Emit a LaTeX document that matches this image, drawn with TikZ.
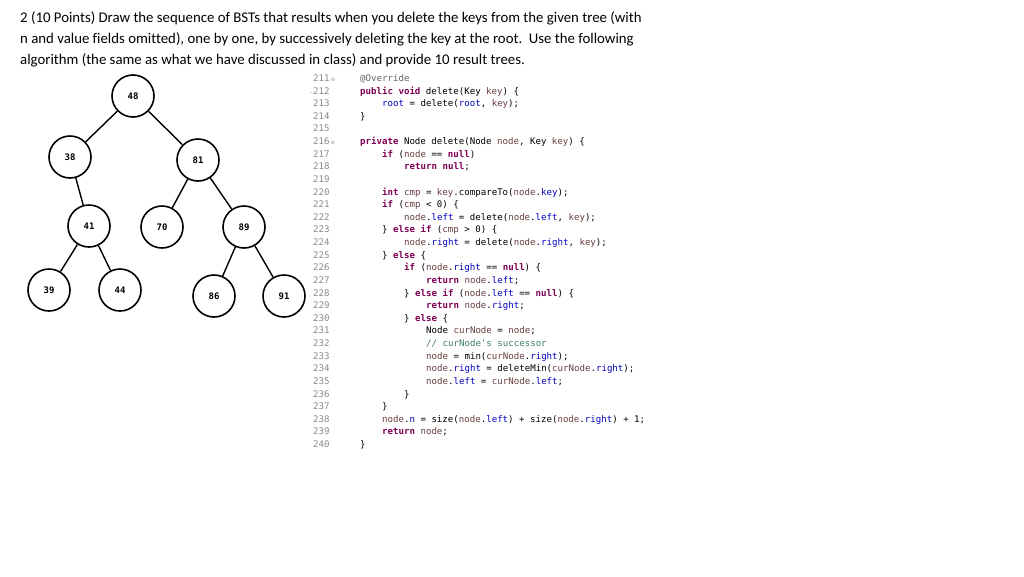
\documentclass[tikz,border=0pt]{standalone}
\usepackage{fontspec}
\newfontfamily\hdfont{Carlito}[Ligatures={TeX,NoCommon}]
\newfontfamily\codefont{DejaVu Sans Mono}[Ligatures=TeXOff]
\newfontfamily\symfont{DejaVu Sans}
\definecolor{kwcol}{HTML}{7F0055}
\definecolor{fldcol}{HTML}{0000C0}
\definecolor{varcol}{HTML}{6A3E3E}
\definecolor{cmtcol}{HTML}{3F7F5F}
\definecolor{anncol}{HTML}{646464}
\definecolor{lncol}{HTML}{8A8A8A}
\newcommand\kw[1]{\textcolor{kwcol}{\bfseries #1}}
\newcommand\fld[1]{\textcolor{fldcol}{#1}}
\newcommand\lvar[1]{\textcolor{varcol}{#1}}
\newcommand\cmt[1]{\textcolor{cmtcol}{#1}}
\newcommand\ann[1]{\textcolor{anncol}{#1}}

\tikzset{
  bstnode/.style={circle,draw,line width=1.6pt,minimum size=42pt,inner sep=0pt,
    font=\codefont\fontsize{9}{10}\selectfont\bfseries},
  bstedge/.style={line width=1.4pt},
  codeline/.style={anchor=base west,inner sep=0pt,font=\codefont\fontsize{9.1}{10}\selectfont},
  lineno/.style={codeline,text=lncol},
  header/.style={anchor=base west,inner sep=0pt,font=\hdfont\fontsize{14.8}{18}\selectfont},
}

\begin{document}
\begin{tikzpicture}[x=1pt,y=-1pt]
\useasboundingbox[fill=white] (0,0) rectangle (1024,576);

% task text
\node[header] (hd1) at (20,22) {2 (10 Points) Draw the sequence of BSTs that results when you delete the keys from the given tree (with};
\node[header] (hd2) at (20,43) {n and value fields omitted), one by one, by successively deleting the key at the root.\ \ Use the following};
\node[header] (hd3) at (20,64) {algorithm (the same as what we have discussed in class) and provide 10 result trees.};

% the tree
\node[bstnode] (n48) at (133,96) {48};
\node[bstnode] (n38) at (70,157) {38};
\node[bstnode] (n81) at (198,160) {81};
\node[bstnode] (n41) at (89,226) {41};
\node[bstnode] (n70) at (162,227) {70};
\node[bstnode] (n89) at (244,227) {89};
\node[bstnode] (n39) at (49,290) {39};
\node[bstnode] (n44) at (120,290) {44};
\node[bstnode] (n86) at (214,296) {86};
\node[bstnode] (n91) at (284,296) {91};
\foreach \a/\b in {48/38,48/81,38/41,41/39,41/44,81/70,81/89,89/86,89/91}
  \draw[bstedge] (n\a) -- (n\b);

% line numbers
\foreach \n [count=\i from 0] in {211,...,240}
  \node[lineno] (ln\n) at (313,81.5+12.62*\i) {\n};
\node[anchor=base west,inner sep=0pt,text=lncol,font=\symfont\fontsize{5}{6}\selectfont] (fold211) at (ln211.base east) {\,⊖};
\node[anchor=base west,inner sep=0pt,text=lncol,font=\symfont\fontsize{5}{6}\selectfont] (fold216) at (ln216.base east) {\,⊖};
\node[anchor=base east,inner sep=0pt,text=lncol,font=\codefont\fontsize{6}{6}\selectfont] (mark212) at (ln212.base west) {-};

% the code
\foreach \lvl/\txt [count=\i from 0] in {
  1/{\ann{@Override}},
  1/{\kw{public} \kw{void} delete(Key \lvar{key}) \{},
  2/{\fld{root} = delete(\fld{root}, \lvar{key});},
  1/{\}},
  1/{},
  1/{\kw{private} Node delete(Node \lvar{node}, Key \lvar{key}) \{},
  2/{\kw{if} (\lvar{node} == \kw{null})},
  3/{\kw{return} \kw{null};},
  1/{},
  2/{\kw{int} \lvar{cmp} = \lvar{key}.compareTo(\lvar{node}.\fld{key});},
  2/{\kw{if} (\lvar{cmp} < 0) \{},
  3/{\lvar{node}.\fld{left} = delete(\lvar{node}.\fld{left}, \lvar{key});},
  2/{\} \kw{else} \kw{if} (\lvar{cmp} > 0) \{},
  3/{\lvar{node}.\fld{right} = delete(\lvar{node}.\fld{right}, \lvar{key});},
  2/{\} \kw{else} \{},
  3/{\kw{if} (\lvar{node}.\fld{right} == \kw{null}) \{},
  4/{\kw{return} \lvar{node}.\fld{left};},
  3/{\} \kw{else} \kw{if} (\lvar{node}.\fld{left} == \kw{null}) \{},
  4/{\kw{return} \lvar{node}.\fld{right};},
  3/{\} \kw{else} \{},
  4/{Node \lvar{curNode} = \lvar{node};},
  4/{\cmt{// curNode's successor}},
  4/{\lvar{node} = min(\lvar{curNode}.\fld{right});},
  4/{\lvar{node}.\fld{right} = deleteMin(\lvar{curNode}.\fld{right});},
  4/{\lvar{node}.\fld{left} = \lvar{curNode}.\fld{left};},
  3/{\}},
  2/{\}},
  2/{\lvar{node}.\fld{n} = size(\lvar{node}.\fld{left}) + size(\lvar{node}.\fld{right}) + 1;},
  2/{\kw{return} \lvar{node};},
  1/{\}}}
  \node[codeline] (code\i) at (338+22*\lvl,81.5+12.62*\i) {\txt};
\end{tikzpicture}
\end{document}
